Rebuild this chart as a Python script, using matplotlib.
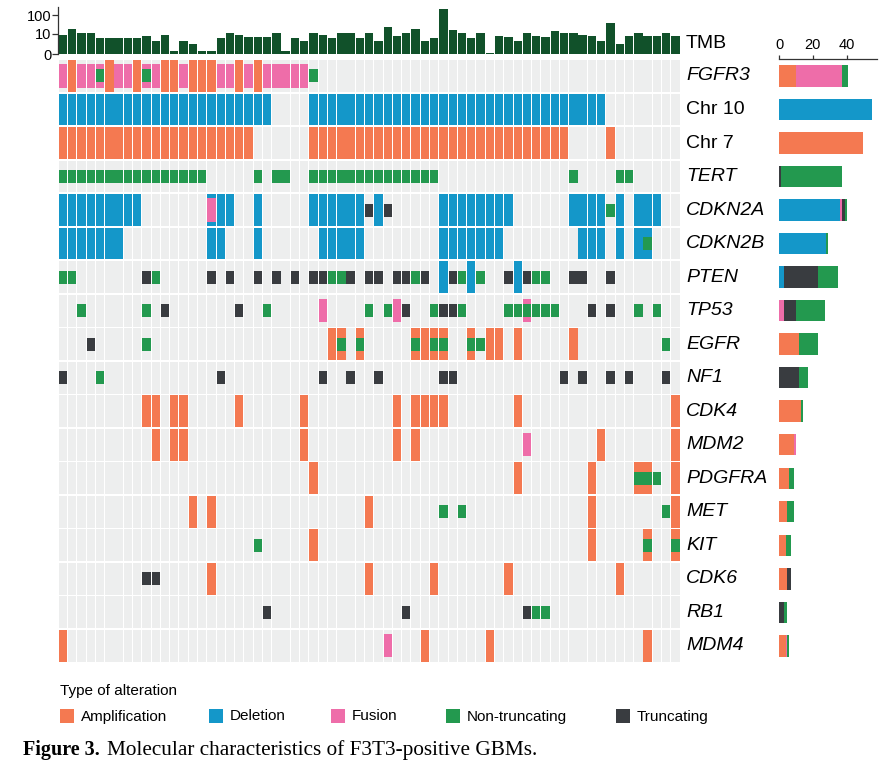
import numpy as np
import matplotlib
matplotlib.use("Agg")
import matplotlib.pyplot as plt
from matplotlib.patches import Rectangle

plt.rcParams['font.family'] = ['Liberation Sans', 'DejaVu Sans']

W, H = 889, 780
n_samples = 67

genes = ["FGFR3", "Chr 10", "Chr 7", "TERT", "CDKN2A", "CDKN2B", "PTEN", "TP53",
         "EGFR", "NF1", "CDK4", "MDM2", "PDGFRA", "MET", "KIT", "CDK6", "RB1", "MDM4"]
not_italic = ["Chr 10", "Chr 7"]

# tumour mutational burden per sample (left to right)
tmb = [9, 18, 11, 12, 5.5, 5.5, 5.5, 5.5, 5.5, 8, 4, 9, 0.5, 4, 2.2, 0.5, 0.5,
       5.5, 12, 9, 7, 7, 7, 12, 0.5, 5.5, 4, 12, 9, 5.5, 11, 11, 5.5, 12, 4, 25,
       7.5, 12, 18, 4, 5.5, 220, 16, 11, 5.5, 12, 0.1, 7.5, 7, 4, 11, 7.5, 7, 14,
       11, 11, 9, 7.5, 4, 40, 2.4, 8, 11, 8, 8, 11, 8]

# altered samples per gene: single column index or (first, last) run
amplification = {
    "FGFR3": [1, 5, 8, (11, 12), (14, 16), 19, 21],
    "Chr 7": [(0, 20), (27, 54), 59],
    "EGFR": [29, 30, 32, 38, 39, 40, 41, 44, 46, 47, 49, 55],
    "CDK4": [9, 10, 12, 13, 19, 26, 36, 38, 39, 40, 41, 49, 66],
    "MDM2": [10, 12, 13, 26, 36, 38, 58, 66],
    "PDGFRA": [27, 49, 57, 62, 63, 66],
    "MET": [14, 16, 33, 57, 66],
    "KIT": [27, 57, 63, 66],
    "CDK6": [16, 33, 40, 48, 60],
    "MDM4": [0, 39, 46, 63],
}
deletion = {
    "Chr 10": [(0, 22), (27, 58)],
    "CDKN2A": [(0, 8), (16, 18), 21, (27, 32), 34, (41, 48), (55, 58), 60, (62, 64)],
    "CDKN2B": [(0, 6), 16, 17, 21, (28, 32), (41, 47), (56, 58), 60, 62, 63],
    "PTEN": [41, 44, 49],
}
fusion = {
    "FGFR3": [(0, 26)],
    "CDKN2A": [16],
    "TP53": [28, 36, 50],
    "MDM2": [50],
    "MDM4": [35],
}
non_truncating = {
    "FGFR3": [4, 9, 27],
    "TERT": [(0, 15), 21, 23, 24, (27, 40), 55, 60, 61],
    "CDKN2A": [59],
    "CDKN2B": [63],
    "PTEN": [0, 1, 10, 29, 30, 38, 43, 45, 51, 52],
    "TP53": [2, 9, 22, 33, 35, 40, 43, (48, 53), 62, 64],
    "EGFR": [9, 30, 32, 38, 40, 41, 44, 45, 65],
    "NF1": [4],
    "PDGFRA": [62, 63, 64],
    "MET": [41, 43, 65],
    "KIT": [21, 63, 66],
    "RB1": [51, 52],
}
truncating = {
    "CDKN2A": [33, 35],
    "PTEN": [9, 16, 18, 21, 23, 25, 27, 28, 31, 33, 34, 36, 37, 39, 42, 48, 50,
             55, 56, 59],
    "TP53": [11, 19, 37, 41, 42, 57, 59],
    "EGFR": [3],
    "NF1": [0, 17, 28, 31, 34, 41, 42, 54, 56, 59, 61, 65],
    "CDK6": [9, 10],
    "RB1": [22, 37, 50],
}

# sample counts per gene shown in the right-hand bar chart
count_amp = [10, 0, 50, 0, 0, 0, 0, 0, 12, 0, 13, 9, 6, 5, 4, 5, 0, 4]
count_del = [0, 55, 0, 0, 36, 28, 3, 0, 0, 0, 0, 0, 0, 0, 0, 0, 0, 0]
count_fus = [27, 0, 0, 0, 1, 0, 0, 3, 0, 0, 0, 1, 0, 0, 0, 0, 0, 1]
count_trunc = [0, 0, 0, 1, 2, 0, 20, 7, 0, 12, 0, 0, 0, 0, 0, 2, 3, 0]
count_nontr = [4, 0, 0, 36, 1, 1, 12, 17, 11, 5, 1, 0, 3, 4, 3, 0, 2, 1]

C_AMP = "#F47951"
C_DEL = "#1497C9"
C_FUS = "#EE6DA9"
C_NON = "#23994F"
C_TRU = "#393C40"
C_BG = "#EDEEEE"
C_TMB = "#11512A"


def expand(runs):
    cols = []
    for r in runs:
        if isinstance(r, tuple):
            cols.extend(range(r[0], r[1] + 1))
        else:
            cols.append(r)
    return np.array(cols)


fig = plt.figure(figsize=(W / 100, H / 100), dpi=100)


def px_axes(left, top, right, bottom):
    return fig.add_axes([left / W, 1 - bottom / H, (right - left) / W, (bottom - top) / H])


GRID_L, GRID_R = 58.3, 680.1
GRID_T, GRID_B = 59.2, 662.6
col_w = 0.9

# --- TMB bars on top
ax_t = px_axes(GRID_L, 6.5, GRID_R, 54.3)
x = np.arange(n_samples) + 0.5
ax_t.bar(x, np.log10(np.array(tmb) + 1), width=col_w, color=C_TMB, linewidth=0)
ax_t.set_xlim(0, n_samples)
ax_t.set_ylim(0, 2.45)
for s in ["top", "right", "bottom"]:
    ax_t.spines[s].set_visible(False)
ax_t.spines["left"].set_color("#333333")
ax_t.spines["left"].set_linewidth(0.9)
ax_t.set_xticks([])
ax_t.set_yticks(np.log10([1, 11, 101]))
ax_t.set_yticklabels(["0", "10", "100"], fontsize=10.5)
ax_t.tick_params(axis="y", length=4, width=0.9, pad=1, color="#333333")
fig.text(686 / W, 1 - 43 / H, "TMB", fontsize=14, va="center", ha="left")

# --- oncoprint grid
ax = px_axes(GRID_L, GRID_T, GRID_R, GRID_B)
ax.set_xlim(0, n_samples)
ax.set_ylim(len(genes), 0)
ax.axis("off")

for r in range(len(genes)):
    ax.bar(x, 0.95, bottom=r + 0.025, width=col_w, color=C_BG, linewidth=0)


def draw_layer(data, color, h):
    for gene, runs in data.items():
        r = genes.index(gene)
        cols = expand(runs)
        ax.bar(cols + 0.5, h, bottom=r + 0.5 - h / 2, width=col_w, color=color, linewidth=0)


draw_layer(deletion, C_DEL, 0.95)
draw_layer(fusion, C_FUS, 0.69)
draw_layer(amplification, C_AMP, 0.95)
draw_layer(truncating, C_TRU, 0.39)
draw_layer(non_truncating, C_NON, 0.39)

for r, g in enumerate(genes):
    ax.text(n_samples + 0.64, r + 0.5, g, fontsize=14, va="center", ha="left",
            style="normal" if g in not_italic else "italic", clip_on=False)

# --- per-gene counts on the right
ax_r = px_axes(779, GRID_T, 877, GRID_B)
ax_r.set_xlim(0, 58)
ax_r.set_ylim(len(genes), 0)
y = np.arange(len(genes)) + 0.5
left = np.zeros(len(genes))
for vals, color in [(count_amp, C_AMP), (count_del, C_DEL), (count_fus, C_FUS),
                    (count_trunc, C_TRU), (count_nontr, C_NON)]:
    vals = np.array(vals, dtype=float)
    ax_r.barh(y, vals, left=left, height=0.64, color=color, linewidth=0)
    left += vals
for s in ["bottom", "left", "right"]:
    ax_r.spines[s].set_visible(False)
ax_r.spines["top"].set_color("#333333")
ax_r.spines["top"].set_linewidth(0.9)
ax_r.set_yticks([])
ax_r.xaxis.tick_top()
ax_r.set_xticks([0, 20, 40])
ax_r.tick_params(axis="x", length=3, width=0.9, pad=2.5, labelsize=10.5, color="#333333")

# --- legend
fig.text(60 / W, 1 - 695 / H, "Type of alteration", fontsize=11, va="baseline", ha="left")
legend_items = [("Amplification", C_AMP, 60), ("Deletion", C_DEL, 209),
                ("Fusion", C_FUS, 331), ("Non-truncating", C_NON, 446),
                ("Truncating", C_TRU, 616)]
for label, color, lx in legend_items:
    fig.patches.append(Rectangle((lx / W, 1 - 723 / H), 14 / W, 14.5 / H,
                                 transform=fig.transFigure, color=color, linewidth=0))
    fig.text((lx + 21) / W, 1 - 720.5 / H, label, fontsize=11, va="baseline", ha="left")

# --- caption
fig.text(23 / W, 1 - 755 / H, "Figure 3.", fontsize=14.5, fontweight="bold",
         family="Liberation Serif", va="baseline", ha="left")
fig.text(107 / W, 1 - 755 / H, "Molecular characteristics of F3T3-positive GBMs.",
         fontsize=15.3, family="Liberation Serif", va="baseline", ha="left")

fig.savefig("out.png", dpi=100)
